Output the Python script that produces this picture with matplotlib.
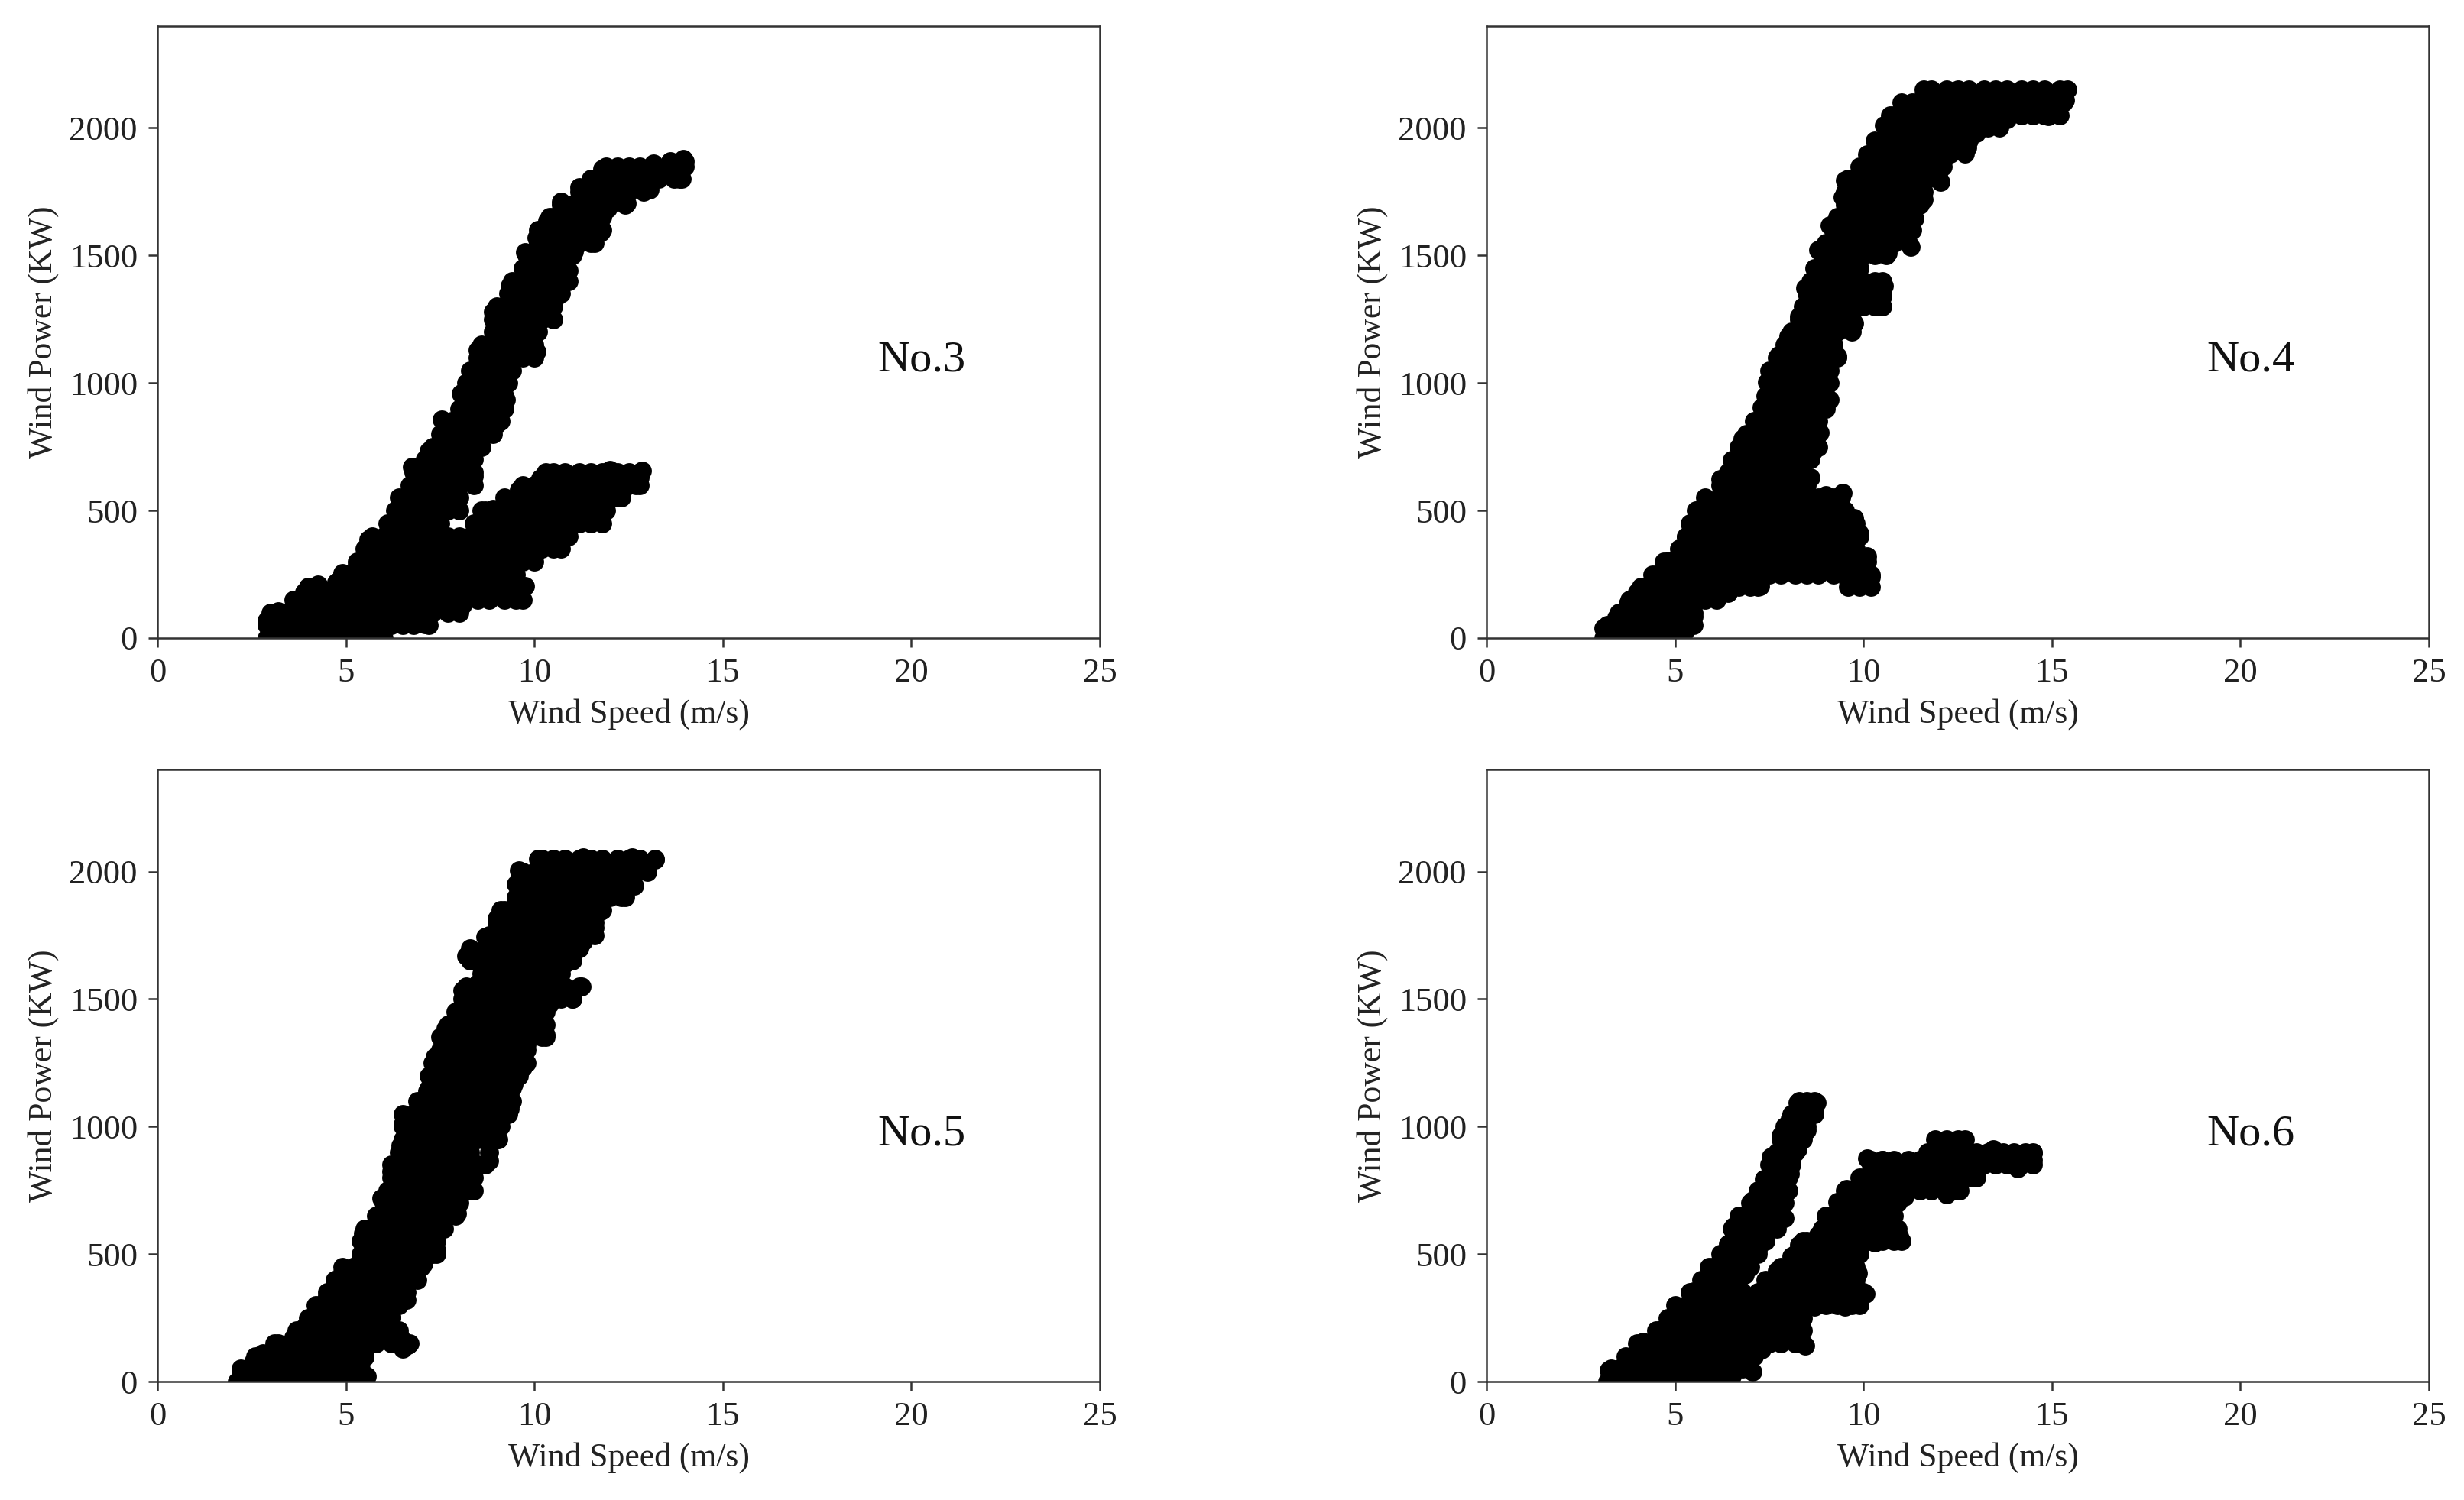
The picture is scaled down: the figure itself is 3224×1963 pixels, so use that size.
import matplotlib
matplotlib.use("Agg")
import matplotlib.pyplot as plt

plt.rcParams['font.family'] = ['Liberation Serif', 'DejaVu Serif']

# points, one list of wind speeds per power level (KW)
no3_power = [0, 50, 100, 150, 200, 250, 300, 350, 400, 450, 500, 550, 600, 650, 700, 750, 800, 850, 900, 950,
             1000, 1050, 1100, 1150, 1200, 1250, 1300, 1350, 1400, 1450, 1500, 1550, 1600, 1650, 1700, 1750,
             1800, 1850, 1870]
no3_speed = [
    [2.9, 3.3, 3.7, 4.0, 4.3, 4.7, 5.0, 5.3, 5.7, 6.0],
    [2.9, 3.2, 3.5, 3.8, 4.2, 4.5, 4.8, 5.2, 5.5, 5.8, 6.2, 6.5, 6.8, 7.2],
    [3.0, 3.3, 3.7, 4.0, 4.3, 4.7, 5.0, 5.3, 5.7, 6.0, 6.3, 6.7, 7.0, 7.3, 7.7, 8.0],
    [3.6, 3.8, 4.2, 4.5, 4.8, 5.2, 5.5, 5.8, 6.2, 6.5, 6.8, 7.2, 7.5, 7.8, 8.2, 8.5, 8.8, 9.2, 9.5, 9.7],
    [4.0, 4.3, 4.7, 5.0, 5.3, 5.7, 6.0, 6.3, 6.7, 7.0, 7.3, 7.7, 8.0, 8.3, 8.7, 9.0, 9.3, 9.7],
    [4.9, 5.2, 5.5, 5.8, 6.2, 6.5, 6.8, 7.2, 7.5, 7.8, 8.2, 8.5, 8.8, 9.2, 9.5],
    [5.3, 5.7, 6.0, 6.3, 6.7, 7.0, 7.3, 7.7, 8.0, 8.3, 8.7, 9.0, 9.3, 9.7, 10.0],
    [5.5, 5.8, 6.2, 6.5, 6.8, 7.2, 7.5, 7.8, 8.2, 8.5, 8.8, 9.2, 9.5, 9.8, 10.2, 10.5, 10.7],
    [5.7, 6.0, 6.3, 6.7, 7.0, 7.3, 7.7, 8.0, 8.3, 8.7, 9.0, 9.3, 9.7, 10.0, 10.3, 10.7, 10.9],
    [6.1, 6.2, 6.5, 6.8, 7.2, 7.5, 8.4, 8.5, 8.8, 9.2, 9.5, 9.8, 10.2, 10.5, 10.8, 11.2, 11.5, 11.8],
    [6.3, 6.7, 7.0, 7.3, 7.7, 8.0, 8.6, 8.7, 9.0, 9.3, 9.7, 10.0, 10.3, 10.7, 11.0, 11.3, 11.7, 11.9],
    [6.4, 6.5, 6.8, 7.2, 7.5, 7.8, 8.0, 9.2, 9.5, 9.8, 10.2, 10.5, 10.8, 11.2, 11.5, 11.8, 12.2, 12.3],
    [6.7, 7.0, 7.3, 7.7, 8.0, 8.4, 9.7, 10.0, 10.3, 10.7, 11.0, 11.3, 11.7, 12.0, 12.3, 12.7, 12.8],
    [6.8, 7.2, 7.5, 7.8, 8.2, 8.4, 10.3, 10.5, 10.8, 11.2, 11.5, 11.8, 12.2, 12.5, 12.8],
    [7.1, 7.3, 7.7, 8.0, 8.4],
    [7.3, 7.5, 7.8, 8.2, 8.5],
    [7.5, 7.7, 8.0, 8.3, 8.7, 8.9],
    [7.6, 7.8, 8.2, 8.5, 8.8, 9.1],
    [8.0, 8.3, 8.7, 9.0, 9.2],
    [8.1, 8.2, 8.5, 8.8, 9.2],
    [8.2, 8.4, 8.7, 9.0, 9.3],
    [8.3, 8.5, 8.8, 9.2, 9.4],
    [8.5, 8.7, 9.0, 9.3, 9.7, 10.0],
    [8.6, 8.8, 9.2, 9.5, 9.8, 10.0],
    [8.9, 9.0, 9.3, 9.7, 10.0, 10.1],
    [8.9, 9.2, 9.5, 9.8, 10.2, 10.5],
    [9.0, 9.3, 9.7, 10.0, 10.3, 10.5],
    [9.3, 9.5, 9.8, 10.2, 10.5, 10.7],
    [9.4, 9.7, 10.0, 10.3, 10.7, 10.9],
    [9.7, 9.8, 10.2, 10.5, 10.8],
    [9.8, 10.0, 10.3, 10.7, 11.0],
    [10.1, 10.2, 10.5, 10.8, 11.2, 11.5, 11.6],
    [10.1, 10.3, 10.7, 11.0, 11.3, 11.7, 11.8],
    [10.4, 10.5, 10.8, 11.2, 11.5, 11.8],
    [10.7, 11.0, 11.3, 11.7, 12.0, 12.4],
    [11.2, 11.5, 11.8, 12.2, 12.5, 12.9],
    [11.5, 11.7, 12.0, 12.3, 12.7, 13.0, 13.3, 13.7, 13.9],
    [11.9, 12.2, 12.5, 12.8, 13.2, 13.5, 13.8, 14.0],
    [13.6, 14.0],
]
# points along the outer edge of the cloud
no3_edge_speed = [2.9, 3.2, 3.7, 3.9, 4.25, 4.75, 4.9, 5.3, 5.6, 6.2, 6.45, 6.75, 7.2, 7.55, 8.05, 8.5, 8.9, 9.35,
                  9.75, 10.05, 10.35, 10.7, 11.2, 11.8, 12.5, 13.15, 13.95, 13.95, 13.85, 13.05, 12.45, 11.95,
                  11.75, 11.05, 10.9, 10.55, 10.15, 10.05, 9.35, 9.25, 9.0, 8.6, 8.4, 8.05, 8.9, 9.6, 10.15, 10.8,
                  12.0, 12.85, 12.8, 12.45, 11.85, 11.1, 10.65, 10.05, 9.75, 8.7, 8.1, 7.1]
no3_edge_power = [70, 105, 135, 180, 210, 220, 255, 285, 388, 435, 547, 670, 735, 857, 960, 1130, 1280, 1380,
                  1513, 1570, 1635, 1710, 1767, 1840, 1835, 1862, 1880, 1850, 1800, 1760, 1705, 1685,
                  1590, 1515, 1440, 1330, 1255, 1125, 1050, 935, 840, 750, 635, 605, 505, 580, 625, 645,
                  660, 655, 630, 595, 505, 495, 395, 340, 205, 178, 130, 55]

no4_power = [0, 50, 100, 150, 200, 250, 300, 350, 400, 450, 500, 550, 600, 650, 700, 750, 800, 850, 900, 950,
             1000, 1050, 1100, 1150, 1200, 1250, 1300, 1350, 1400, 1450, 1500, 1550, 1600, 1650, 1700, 1750,
             1800, 1850, 1900, 1950, 2000, 2050, 2100, 2150]
no4_speed = [
    [3.1, 3.3, 3.7, 4.0, 4.3, 4.7, 5.0, 5.2],
    [3.2, 3.5, 3.8, 4.2, 4.5, 4.8, 5.2, 5.5],
    [3.5, 3.7, 4.0, 4.3, 4.7, 5.0, 5.3, 5.5],
    [3.8, 4.2, 4.5, 4.8, 5.2, 5.5, 5.8, 6.1],
    [4.1, 4.3, 4.7, 5.0, 5.3, 5.7, 6.0, 6.3, 6.7, 7.0, 7.2, 9.6, 9.9, 10.2],
    [4.4, 4.5, 4.8, 5.2, 5.5, 5.8, 6.2, 6.5, 6.8, 7.2, 7.5, 7.8, 8.2, 8.5, 8.8, 9.2, 9.5, 9.8, 10.2],
    [4.7, 5.0, 5.3, 5.7, 6.0, 6.3, 6.7, 7.0, 7.3, 7.7, 8.0, 8.3, 8.7, 9.0, 9.3, 9.7, 10.1],
    [5.1, 5.5, 5.8, 6.2, 6.5, 6.8, 7.2, 7.5, 7.8, 8.2, 8.5, 8.8, 9.2, 9.5, 9.8],
    [5.3, 5.7, 6.0, 6.3, 6.7, 7.0, 7.3, 7.7, 8.0, 8.3, 8.7, 9.0, 9.3, 9.7, 9.9],
    [5.4, 5.8, 6.2, 6.5, 6.8, 7.2, 7.5, 7.8, 8.2, 8.5, 8.8, 9.2, 9.5, 9.8],
    [5.6, 5.7, 6.0, 6.3, 6.7, 7.0, 7.3, 7.7, 8.0, 8.3, 8.7, 9.0, 9.3, 9.5],
    [5.8, 6.2, 6.5, 6.8, 7.2, 7.5, 7.8, 8.2, 8.5, 8.8, 9.2, 9.4],
    [6.2, 6.3, 6.7, 7.0, 7.3, 7.7, 8.0, 8.3, 8.5],
    [6.4, 6.5, 6.8, 7.2, 7.5, 7.8, 8.2, 8.4],
    [6.6, 7.0, 7.3, 7.7, 8.0, 8.3, 8.6],
    [6.7, 6.8, 7.2, 7.5, 7.8, 8.2, 8.5, 8.8],
    [6.9, 7.0, 7.3, 7.7, 8.0, 8.3, 8.7, 8.8],
    [7.1, 7.2, 7.5, 7.8, 8.2, 8.5, 8.8],
    [7.4, 7.7, 8.0, 8.3, 8.7, 9.0],
    [7.4, 7.5, 7.8, 8.2, 8.5, 8.8, 9.0],
    [7.5, 7.7, 8.0, 8.3, 8.7, 9.0, 9.1],
    [7.5, 7.8, 8.2, 8.5, 8.8, 9.1],
    [7.7, 8.0, 8.3, 8.7, 9.0, 9.3],
    [7.9, 8.2, 8.5, 8.8, 9.2],
    [8.1, 8.3, 8.7, 9.0, 9.3, 9.7],
    [8.3, 8.5, 8.8, 9.2, 9.5, 9.7],
    [8.4, 8.7, 9.0, 9.3, 9.7, 10.0, 10.3, 10.5],
    [8.5, 8.8, 9.2, 9.5, 9.8, 10.2, 10.5],
    [8.6, 8.7, 9.0, 9.3, 9.7, 10.0, 10.3, 10.5],
    [8.7, 8.8, 9.2, 9.5, 9.9],
    [8.9, 9.0, 9.3, 9.7, 10.0, 10.3, 10.6],
    [9.0, 9.2, 9.5, 9.8, 10.2, 10.5, 10.8, 11.2],
    [9.2, 9.3, 9.7, 10.0, 10.3, 10.7, 11.0, 11.3],
    [9.3, 9.5, 9.8, 10.2, 10.5, 10.8, 11.2, 11.3],
    [9.5, 9.7, 10.0, 10.3, 10.7, 11.0, 11.3, 11.5],
    [9.5, 9.8, 10.2, 10.5, 10.8, 11.2, 11.5, 11.6],
    [9.6, 10.0, 10.3, 10.7, 11.0, 11.3, 11.7, 12.0],
    [9.9, 10.2, 10.5, 10.8, 11.2, 11.5, 11.8, 12.1],
    [10.2, 10.3, 10.7, 11.0, 11.3, 11.7, 12.0, 12.3, 12.7],
    [10.3, 10.5, 10.8, 11.2, 11.5, 11.8, 12.2, 12.5, 12.8],
    [10.6, 10.7, 11.0, 11.3, 11.7, 12.0, 12.3, 12.7, 13.0, 13.3, 13.6],
    [10.7, 10.8, 11.2, 11.5, 11.8, 12.2, 12.5, 12.8, 13.2, 13.5, 13.8, 14.2, 14.5, 14.8, 15.2],
    [11.0, 11.3, 11.7, 12.0, 12.3, 12.7, 13.0, 13.3, 13.7, 14.0, 14.3, 14.7, 15.0, 15.3],
    [11.6, 11.8, 12.2, 12.5, 12.8, 13.2, 13.5, 13.8, 14.2, 14.5, 14.8, 15.2, 15.4],
]
no4_edge_speed = [3.1, 3.45, 3.75, 4.0, 4.45, 4.85, 5.3, 5.55, 6.2, 6.5, 6.8, 7.3, 7.45, 7.75, 8.0, 8.3, 8.45, 8.8,
                  9.1, 9.45, 9.5, 10.1, 10.55, 11.0, 11.6, 12.3, 13.7, 15.35, 15.35, 15.1, 13.8, 14.9, 13.0, 12.75,
                  12.1, 12.05, 11.6, 11.35, 11.25, 10.65, 10.55, 10.5, 9.85, 9.75, 9.3, 9.1, 8.85, 8.65, 8.6,
                  9.45, 9.0, 9.75, 9.9, 10.1, 10.2, 9.95, 9.6, 8.5, 7.7, 7.25, 6.4, 5.5, 5.5, 5.25]
no4_edge_power = [40, 80, 135, 180, 247, 303, 397, 500, 622, 697, 782, 905, 1005, 1110, 1185, 1260, 1373, 1523,
                  1617, 1730, 1795, 1898, 2010, 2065, 2130, 2145, 2145, 2145, 2110, 2065, 2035, 2045, 1980, 1925,
                  1870, 1790, 1720, 1645, 1535, 1510, 1380, 1340, 1330, 1235, 1105, 935, 805, 730, 630,
                  570, 560, 470, 410, 320, 240, 225, 225, 262, 270, 205, 178, 145, 85, 25]

no5_power = [0, 50, 100, 150, 200, 250, 300, 350, 400, 450, 500, 550, 600, 650, 700, 750, 800, 850, 900, 950,
             1000, 1050, 1100, 1150, 1200, 1250, 1300, 1350, 1400, 1450, 1500, 1550, 1600, 1650, 1700, 1750,
             1800, 1850, 1900, 1950, 2000, 2050]
no5_speed = [
    [2.1, 2.3, 2.7, 3.0, 3.3, 3.7, 4.0, 4.3, 4.7, 5.0, 5.3, 5.5],
    [2.2, 2.5, 2.8, 3.2, 3.5, 3.8, 4.2, 4.5, 4.8, 5.2, 5.4],
    [2.6, 2.7, 3.0, 3.3, 3.7, 4.0, 4.3, 4.7, 5.0, 5.3, 5.5],
    [3.1, 3.2, 3.5, 3.8, 4.2, 4.5, 4.8, 5.2, 5.5, 5.8, 6.2, 6.5, 6.7],
    [3.7, 4.0, 4.3, 4.7, 5.0, 5.3, 5.7, 6.0, 6.1, 6.4],
    [4.0, 4.2, 4.5, 4.8, 5.2, 5.5, 5.8, 6.2],
    [4.2, 4.3, 4.7, 5.0, 5.3, 5.7, 6.0, 6.4],
    [4.5, 4.8, 5.2, 5.5, 5.8, 6.2, 6.5, 6.6],
    [4.7, 5.0, 5.3, 5.7, 6.0, 6.3, 6.7, 6.9],
    [4.9, 5.2, 5.5, 5.8, 6.2, 6.5, 6.8, 7.0],
    [5.4, 5.7, 6.0, 6.3, 6.7, 7.0, 7.3, 7.4],
    [5.4, 5.5, 5.8, 6.2, 6.5, 6.8, 7.2, 7.4],
    [5.5, 5.7, 6.0, 6.3, 6.7, 7.0, 7.3, 7.6],
    [5.8, 6.2, 6.5, 6.8, 7.2, 7.5, 7.9],
    [6.0, 6.3, 6.7, 7.0, 7.3, 7.7, 8.0],
    [6.1, 6.2, 6.5, 6.8, 7.2, 7.5, 7.8, 8.2, 8.3],
    [6.2, 6.3, 6.7, 7.0, 7.3, 7.7, 8.0, 8.4],
    [6.2, 6.5, 6.8, 7.2, 7.5, 7.8, 8.2, 8.5, 8.7],
    [6.4, 6.7, 7.0, 7.3, 7.7, 8.0, 8.3, 8.8],
    [6.5, 6.8, 7.2, 7.5, 7.8, 8.2, 8.5, 8.8, 9.0],
    [6.5, 6.7, 7.0, 7.3, 7.7, 8.0, 8.3, 8.7, 9.0, 9.1],
    [6.5, 6.8, 7.2, 7.5, 7.8, 8.2, 8.5, 8.8, 9.2, 9.3],
    [6.9, 7.0, 7.3, 7.7, 8.0, 8.3, 8.7, 9.0, 9.3, 9.4],
    [7.2, 7.5, 7.8, 8.2, 8.5, 8.8, 9.2, 9.4],
    [7.2, 7.3, 7.7, 8.0, 8.3, 8.7, 9.0, 9.3, 9.6],
    [7.3, 7.5, 7.8, 8.2, 8.5, 8.8, 9.2, 9.5, 9.8],
    [7.5, 7.7, 8.0, 8.3, 8.7, 9.0, 9.3, 9.7, 9.8],
    [7.5, 7.8, 8.2, 8.5, 8.8, 9.2, 9.5, 9.8, 10.2, 10.3],
    [7.7, 8.0, 8.3, 8.7, 9.0, 9.3, 9.7, 10.0, 10.3],
    [7.9, 8.2, 8.5, 8.8, 9.2, 9.5, 9.8, 10.2, 10.3],
    [8.1, 8.3, 8.7, 9.0, 9.3, 9.7, 10.0, 10.3, 10.7, 11.0],
    [8.2, 8.5, 8.8, 9.2, 9.5, 9.8, 10.2, 10.5, 10.8, 11.2],
    [8.6, 8.7, 9.0, 9.3, 9.7, 10.0, 10.3, 10.7],
    [8.3, 8.5, 8.8, 9.2, 9.5, 9.8, 10.2, 10.5, 10.8, 11.0],
    [8.3, 8.7, 9.0, 9.3, 9.7, 10.0, 10.3, 10.7, 11.0, 11.2],
    [8.8, 9.2, 9.5, 9.8, 10.2, 10.5, 10.8, 11.2, 11.6],
    [9.0, 9.3, 9.7, 10.0, 10.3, 10.7, 11.0, 11.3, 11.6],
    [9.1, 9.2, 9.5, 9.8, 10.2, 10.5, 10.8, 11.2, 11.5, 11.8],
    [9.5, 9.7, 10.0, 10.3, 10.7, 11.0, 11.3, 11.7, 12.0, 12.3],
    [9.5, 9.8, 10.2, 10.5, 10.8, 11.2, 11.5, 11.8, 12.2, 12.5, 12.6],
    [9.7, 10.0, 10.3, 10.7, 11.0, 11.3, 11.7, 12.0, 12.3, 12.7, 13.0],
    [10.1, 10.2, 10.5, 10.8, 11.2, 11.5, 11.8, 12.2, 12.5, 12.8, 13.2],
]
no5_edge_speed = [2.2, 2.55, 2.8, 3.25, 3.6, 3.9, 4.25, 4.5, 4.9, 5.35, 5.45, 5.9, 5.95, 6.2, 6.45, 6.5, 7.15, 7.35,
                  7.65, 8.1, 8.5, 8.2, 8.7, 9.0, 9.5, 9.6, 10.25, 11.3, 12.6, 13.2, 12.95, 12.65, 12.4, 11.75,
                  11.6, 11.3, 11.0, 10.8, 11.25, 11.0, 10.4, 10.3, 9.8, 9.7, 9.45, 9.35, 9.05, 8.8, 8.4, 7.95,
                  7.4, 7.05, 6.85, 6.6, 6.2, 6.65, 6.45, 6.5, 5.5, 5.55]
no5_edge_power = [30, 80, 110, 138, 175, 213, 288, 335, 428, 466, 580, 645, 720, 823, 925, 1010, 1140, 1272,
                  1385, 1535, 1560, 1670, 1745, 1815, 1890, 2005, 2040, 2055, 2055, 2045, 2025, 1945, 1900, 1845,
                  1780, 1725, 1675, 1640, 1550, 1500, 1480, 1360, 1320, 1230, 1165, 1070, 950, 865, 750, 658,
                  515, 460, 412, 320, 255, 144, 175, 130, 95, 20]

no6_power = [0, 50, 100, 150, 200, 250, 300, 350, 400, 450, 500, 550, 600, 650, 700, 750, 800, 850, 870, 900,
             950, 1000, 1050, 1100]
no6_speed = [
    [3.2, 3.3, 3.7, 4.0, 4.3, 4.7, 5.0, 5.3, 5.7, 6.0, 6.4],
    [3.3, 3.5, 3.8, 4.2, 4.5, 4.8, 5.2, 5.5, 5.8, 6.2, 6.5, 6.8, 7.0],
    [3.7, 4.0, 4.3, 4.7, 5.0, 5.3, 5.7, 6.0, 6.3, 6.7, 7.0, 7.1],
    [4.0, 4.2, 4.5, 4.8, 5.2, 5.5, 5.8, 6.2, 6.5, 6.8, 7.2, 7.5, 7.8, 8.2, 8.4],
    [4.5, 4.7, 5.0, 5.3, 5.7, 6.0, 6.3, 6.7, 7.0, 7.3, 7.7, 8.0, 8.3, 8.4],
    [4.8, 5.2, 5.5, 5.8, 6.2, 6.5, 6.8, 7.2, 7.5, 7.8, 8.2, 8.4],
    [5.0, 5.3, 5.7, 6.0, 6.3, 6.7, 7.0, 7.3, 7.7, 8.0, 8.3, 8.7, 9.0, 9.3, 9.7, 9.9],
    [5.4, 5.5, 5.8, 6.2, 6.5, 6.8, 7.2, 7.5, 7.8, 8.2, 8.5, 8.8, 9.2, 9.5, 9.8, 10.0],
    [5.7, 6.0, 6.3, 6.7, 7.4, 7.7, 8.0, 8.3, 8.7, 9.0, 9.3, 9.7, 9.8],
    [5.9, 6.2, 6.5, 6.8, 7.0, 7.8, 8.2, 8.5, 8.8, 9.2, 9.5, 9.8],
    [6.2, 6.3, 6.7, 7.0, 7.2, 8.2, 8.3, 8.7, 9.0, 9.3, 9.7, 9.9],
    [6.5, 6.8, 7.2, 7.4, 8.4, 8.5, 8.8, 9.2, 9.5, 9.8, 10.2, 10.5, 10.8, 11.0],
    [6.5, 6.7, 7.0, 7.3, 7.7, 8.9, 9.0, 9.3, 9.7, 10.0, 10.3, 10.7, 10.9],
    [6.7, 6.8, 7.2, 7.5, 7.8, 9.1, 9.2, 9.5, 9.8, 10.2, 10.5, 10.8],
    [7.0, 7.3, 7.7, 7.9, 9.4, 9.7, 10.0, 10.3, 10.7, 10.9],
    [7.2, 7.5, 7.8, 8.0, 9.5, 9.8, 10.2, 10.5, 10.8, 11.2, 11.5, 11.8, 12.2, 12.4],
    [7.5, 7.7, 8.0, 9.9, 10.0, 10.3, 10.7, 11.0, 11.3, 11.7, 12.0, 12.3, 12.7, 12.9],
    [7.5, 7.8, 8.1, 10.2, 10.5, 10.8, 11.2, 11.5, 11.8, 12.2, 12.5, 12.8, 13.2, 13.5, 13.8, 14.2, 14.5],
    [10.2, 10.5, 10.8, 11.2, 11.5],
    [7.7, 8.0, 8.2, 11.7, 12.0, 12.3, 12.7, 13.0, 13.3, 13.7, 14.0, 14.3, 14.5],
    [7.8, 8.2, 8.4, 11.9, 12.2, 12.5, 12.7],
    [7.9, 8.3, 8.5],
    [8.1, 8.5, 8.7],
    [8.3, 8.5, 8.7],
]
no6_edge_speed = [3.25, 3.75, 4.15, 4.65, 5.05, 5.5, 6.0, 6.4, 6.55, 7.05, 7.35, 7.55, 7.8, 8.05, 8.25, 8.75, 8.7, 8.5,
                  8.25, 8.05, 7.9, 7.6, 7.2, 6.85, 7.7, 8.1, 8.3, 8.8, 9.0, 9.3, 9.55, 10.1, 10.5, 11.75, 12.3,
                  13.45, 14.5, 14.5, 14.1, 13.0, 12.55, 12.2, 11.1, 10.95, 10.3, 9.9, 9.85, 10.05, 9.5, 8.7, 8.45,
                  7.3, 7.05, 6.5]
no6_edge_power = [45, 90, 155, 205, 288, 355, 448, 540, 607, 710, 795, 880, 965, 1030, 1095, 1095, 1060, 985,
                  910, 815, 640, 630, 515, 420, 435, 490, 535, 575, 650, 705, 755, 875, 870, 900, 935,
                  910, 895, 870, 835, 800, 750, 735, 725, 570, 545, 515, 425, 345, 295, 295, 140,
                  125, 40, 20]

panel_names = ["No.3", "No.4", "No.5", "No.6"]
panel_powers = [no3_power, no4_power, no5_power, no6_power]
panel_speeds = [no3_speed, no4_speed, no5_speed, no6_speed]
edge_speeds = [no3_edge_speed, no4_edge_speed, no5_edge_speed, no6_edge_speed]
edge_powers = [no3_edge_power, no4_edge_power, no5_edge_power, no6_edge_power]
x_ticks = [0, 5, 10, 15, 20, 25]
y_ticks = [0, 500, 1000, 1500, 2000]

W, H = 3224, 1963
# axes boxes in pixels: left, top
boxes = [(206, 34), (1945, 34), (206, 1007), (1945, 1007)]
ax_w, ax_h = 1233, 801
text_y = [1088, 1088, 968, 968]

if __name__ == "__main__":
    fig = plt.figure(figsize=(W / 200, H / 200), dpi=200)
    for i, name in enumerate(panel_names):
        left, top = boxes[i]
        ax = fig.add_axes([left / W, 1 - (top + ax_h) / H, ax_w / W, ax_h / H])
        xs = []
        ys = []
        for p, row in zip(panel_powers[i], panel_speeds[i]):
            xs += row
            ys += [p] * len(row)
        ax.scatter(xs + edge_speeds[i], ys + edge_powers[i], s=80, c='k', linewidths=0)
        ax.set_xlim(0, 25)
        ax.set_ylim(0, 2400)
        ax.set_xticks(x_ticks)
        ax.set_yticks(y_ticks)
        ax.tick_params(labelsize=16, length=4.4, width=0.9, color='#333333', labelcolor='#222222', pad=5)
        for s in ax.spines.values():
            s.set_linewidth(0.9)
            s.set_color('#333333')
        ax.set_xlabel("Wind Speed (m/s)", fontsize=15.7, color='#222222', labelpad=4.5)
        ax.set_ylabel("Wind Power (KW)", fontsize=15.7, color='#222222', labelpad=5)
        ax.text(19.1, text_y[i], name, fontsize=21, color='#111111', va='center', ha='left')
    fig.savefig("out.png", dpi=200)
